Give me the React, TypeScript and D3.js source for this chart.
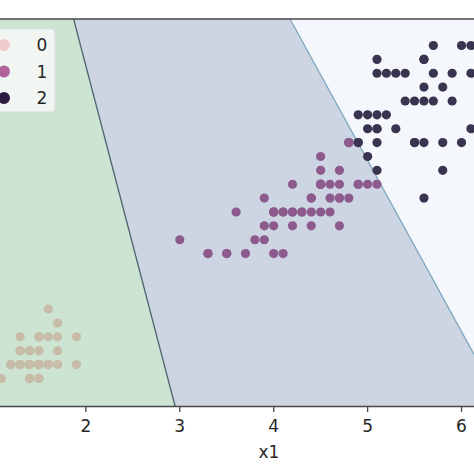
import React from "react";
import * as d3 from "d3";

// Iris petal length (x1) / petal width (x2)
const petalLength: number[] = [
  1.4,1.4,1.3,1.5,1.4,1.7,1.4,1.5,1.4,1.5,1.5,1.6,1.4,1.1,1.2,1.5,1.3,1.4,1.7,1.5,1.7,1.5,1.0,1.7,1.9,1.6,1.6,1.5,1.4,1.6,1.6,1.5,1.5,1.4,1.5,1.2,1.3,1.4,1.3,1.5,1.3,1.3,1.3,1.6,1.9,1.4,1.6,1.4,1.5,1.4,
  4.7,4.5,4.9,4.0,4.6,4.5,4.7,3.3,4.6,3.9,3.5,4.2,4.0,4.7,3.6,4.4,4.5,4.1,4.5,3.9,4.8,4.0,4.9,4.7,4.3,4.4,4.8,5.0,4.5,3.5,3.8,3.7,3.9,5.1,4.5,4.5,4.7,4.4,4.1,4.0,4.4,4.6,4.0,3.3,4.2,4.2,4.2,4.3,3.0,4.1,
  6.0,5.1,5.9,5.6,5.8,6.6,4.5,6.3,5.8,6.1,5.1,5.3,5.5,5.0,5.1,5.3,5.5,6.7,6.9,5.0,5.7,4.9,6.7,4.9,5.7,6.0,4.8,4.9,5.6,5.8,6.1,6.4,5.6,5.1,5.6,6.1,5.6,5.5,4.8,5.4,5.6,5.1,5.1,5.9,5.7,5.2,5.0,5.2,5.4,5.1,
];
const petalWidth: number[] = [
  0.2,0.2,0.2,0.2,0.2,0.4,0.3,0.2,0.2,0.1,0.2,0.2,0.1,0.1,0.2,0.4,0.4,0.3,0.3,0.3,0.2,0.4,0.2,0.5,0.2,0.2,0.4,0.2,0.2,0.2,0.2,0.4,0.1,0.2,0.2,0.2,0.2,0.1,0.2,0.2,0.3,0.3,0.2,0.6,0.4,0.3,0.2,0.2,0.2,0.2,
  1.4,1.5,1.5,1.3,1.5,1.3,1.6,1.0,1.3,1.4,1.0,1.5,1.0,1.4,1.3,1.4,1.5,1.0,1.5,1.1,1.8,1.3,1.5,1.2,1.3,1.4,1.4,1.7,1.5,1.0,1.1,1.0,1.2,1.6,1.5,1.6,1.5,1.3,1.3,1.3,1.2,1.4,1.2,1.0,1.3,1.2,1.3,1.3,1.1,1.3,
  2.5,1.9,2.1,1.8,2.2,2.1,1.7,1.8,1.8,2.5,2.0,1.9,2.1,2.0,2.4,2.3,1.8,2.2,2.3,1.5,2.3,2.0,2.0,1.8,2.1,1.8,1.8,1.8,2.1,1.6,1.9,2.0,2.2,1.5,1.4,2.3,2.4,1.8,1.8,2.1,2.4,2.3,1.9,2.3,2.5,2.3,1.9,2.0,2.3,1.8,
];

// Decision boundaries (x1, x2) endpoints at the top / bottom of the axes
const boundary01X: number[] = [1.869, 2.951];
const boundary01Y: number[] = [2.691, -0.102];
const boundary12X: number[] = [4.174, 6.438];
const boundary12Y: number[] = [2.691, -0.102];

const xTicks: number[] = [2, 3, 4, 5, 6];
const classLabels: string[] = ["0", "1", "2"];
const xLabel = "x1";

const xLim: [number, number] = [0.5, 7.4];
const yLim: [number, number] = [-0.102, 2.691];

const regionColors = ["#cde4d3", "#cdd5e2", "#f4f8fc"];
const pointColors = ["#c6bca8", "#8c5a8c", "#3b3450"];
const legendColors = ["#efcccb", "#b1629b", "#2b1b40"];

export default function App() {
  const W = 474;
  const H = 474;
  const x = d3.scaleLinear().domain(xLim).range([-55, 593]);
  const y = d3.scaleLinear().domain(yLim).range([406.5, 19]);

  const side = (bx: number[], by: number[], px: number, py: number) =>
    (bx[1] - bx[0]) * (py - by[0]) - (by[1] - by[0]) * (px - bx[0]);

  const predict = (px: number, py: number) => {
    // line goes from top to bottom; right side gives positive value
    const s1 = side(boundary01X, boundary01Y, px, py);
    const s2 = side(boundary12X, boundary12Y, px, py);
    if (s1 < 0) return 0;
    if (s2 < 0) return 1;
    return 2;
  };

  const poly = (pts: [number, number][]) =>
    pts.map((p) => `${x(p[0])},${y(p[1])}`).join(" ");

  const region0 = poly([
    [xLim[0], yLim[1]],
    [boundary01X[0], boundary01Y[0]],
    [boundary01X[1], boundary01Y[1]],
    [xLim[0], yLim[0]],
  ]);
  const region1 = poly([
    [boundary01X[0], boundary01Y[0]],
    [boundary12X[0], boundary12Y[0]],
    [boundary12X[1], boundary12Y[1]],
    [boundary01X[1], boundary01Y[1]],
  ]);
  const region2 = poly([
    [boundary12X[0], boundary12Y[0]],
    [xLim[1], yLim[1]],
    [xLim[1], yLim[0]],
    [boundary12X[1], boundary12Y[1]],
  ]);

  const font = "DejaVu Sans, sans-serif";
  const axisY = y(yLim[0]);
  const topY = y(yLim[1]);

  return (
    <svg
      width={W}
      height={H}
      style={{ position: "fixed", left: 0, top: 0, background: "#ffffff" }}
    >
      <rect x={0} y={0} width={W} height={H} fill="#ffffff" />
      <polygon points={region0} fill={regionColors[0]} />
      <polygon points={region1} fill={regionColors[1]} />
      <polygon points={region2} fill={regionColors[2]} />
      <line
        x1={x(boundary01X[0])}
        y1={y(boundary01Y[0])}
        x2={x(boundary01X[1])}
        y2={y(boundary01Y[1])}
        stroke="#4f6672"
        strokeWidth={1.3}
      />
      <line
        x1={x(boundary12X[0])}
        y1={y(boundary12Y[0])}
        x2={x(boundary12X[1])}
        y2={y(boundary12Y[1])}
        stroke="#7fa5be"
        strokeWidth={1.3}
      />
      {petalLength.map((v, i) => {
        const c = predict(v, petalWidth[i]);
        return (
          <circle
            key={i}
            cx={x(v)}
            cy={y(petalWidth[i])}
            r={4.6}
            fill={pointColors[c]}
          />
        );
      })}
      {/* spines */}
      <line x1={x(xLim[0])} x2={x(xLim[1])} y1={topY} y2={topY} stroke="#474747" strokeWidth={1.5} />
      <line x1={x(xLim[0])} x2={x(xLim[1])} y1={axisY} y2={axisY} stroke="#474747" strokeWidth={1.5} />
      {xTicks.map((t) => (
        <g key={t}>
          <line x1={x(t)} x2={x(t)} y1={axisY} y2={axisY + 5.5} stroke="#474747" strokeWidth={1.3} />
          <text
            x={x(t)}
            y={432}
            textAnchor="middle"
            fontFamily={font}
            fontSize={17}
            fill="#262626"
          >
            {t}
          </text>
        </g>
      ))}
      <text
        x={(x(xLim[0]) + x(xLim[1])) / 2}
        y={458}
        textAnchor="middle"
        fontFamily={font}
        fontSize={17}
        fill="#262626"
      >
        {xLabel}
      </text>
      {/* legend */}
      <rect
        x={-12}
        y={29}
        width={67}
        height={83}
        rx={4}
        fill="#f4f7f5"
        fillOpacity={0.92}
        stroke="#dcdfdd"
        strokeWidth={1}
      />
      {classLabels.map((lab, i) => (
        <g key={lab}>
          <circle cx={4} cy={45 + i * 26.5} r={6} fill={legendColors[i]} />
          <text
            x={42}
            y={51 + i * 26.5}
            textAnchor="middle"
            fontFamily={font}
            fontSize={17}
            fill="#262626"
          >
            {lab}
          </text>
        </g>
      ))}
    </svg>
  );
}
